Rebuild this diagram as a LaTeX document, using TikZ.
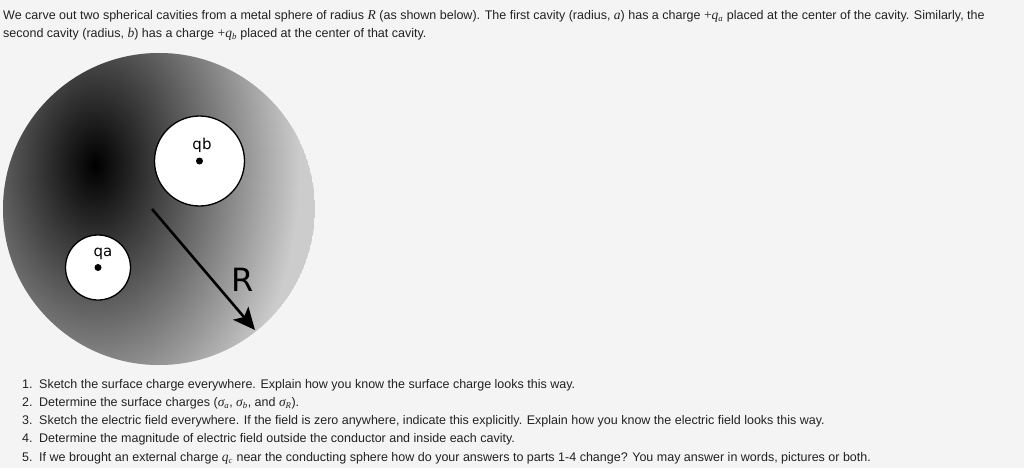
\documentclass[tikz,border=0pt]{standalone}
\usepackage{fontspec}
\setmainfont{Liberation Sans}
\newfontfamily\mathserif{Liberation Serif}
\newfontfamily\labelfont{DejaVu Sans}
\usetikzlibrary{arrows.meta, positioning}
\definecolor{pagebg}{HTML}{F4F4F4}
\definecolor{textcol}{HTML}{222222}
\definecolor{sphlight}{gray}{0.80}
\tikzstyle{every node}=[font=\fontsize{12.5}{15}\selectfont, text=textcol]
\tikzstyle{para}=[anchor=base west, inner sep=0pt]
\tikzstyle{cavity}=[draw, fill=white, circle, line width=1.3pt, inner sep=0pt]
\tikzstyle{chargedot}=[fill=black, circle, inner sep=0pt, minimum size=7pt]
\tikzstyle{qlabel}=[font=\labelfont\fontsize{15}{15}\selectfont, text=black]
\newcommand{\mv}[1]{{\mathserif\itshape\fontsize{13.5}{15}\selectfont #1}}
\newcommand{\msb}[2]{\mv{#1}\textsubscript{\mathserif\itshape #2}}
\newcommand{\pq}[1]{{\mathserif\fontsize{13.5}{15}\selectfont+}\msb{q}{#1}}
\newcommand{\itm}[2]{\makebox[17pt][l]{#1}#2}

\begin{document}
\begin{tikzpicture}[x=1pt, y=-1pt, >=Stealth]
    \fill[pagebg] (0,0) rectangle (1024,468);
    \useasboundingbox (0,0) rectangle (1024,468);
    \node[para] (intro1) at (3,20) {We carve out two spherical cavities from a metal sphere of radius \mv{R} (as shown below). The first cavity (radius, \mv{a}) has a charge \pq{a} placed at the center of the cavity. Similarly, the};
    \node[para] (intro2) at (3,38) {second cavity (radius, \mv{b}) has a charge \pq{b} placed at the center of that cavity.};
    % metal sphere
    \begin{scope}
        \clip (159,209) circle (156);
        \fill[sphlight] (159,209) circle (156);
        \shade[inner color=black, outer color=sphlight] (95,165) ellipse (205 and 300);
    \end{scope}
    \node[cavity, minimum size=90pt] (cavb) at (199.5,161) {};
    \node[cavity, minimum size=65pt] (cava) at (98,267.5) {};
    \node[chargedot] (qbdot) at (cavb.center) {};
    \node[chargedot] (qadot) at (cava.center) {};
    \node[qlabel] (qb) at (202,145) {qb};
    \node[qlabel] (qa) at (103,254) {qa};
    \coordinate (rfoot) at (152,209);
    \coordinate (rtip) at (255,330);
    \draw[->, line width=2.6pt, >={Stealth[length=22pt, width=20pt, inset=5pt]}] (rfoot) -- (rtip);
    \node[font=\labelfont\fontsize{32}{32}\selectfont, text=black] (rlabel) at (243,280) {R};
    % questions
    \node[para] (item1) at (22,388) {\itm{1.}{Sketch the surface charge everywhere. Explain how you know the surface charge looks this way.}};
    \node[para] (item2) at (22,406.3) {\itm{2.}{Determine the surface charges (\msb{σ}{a}, \msb{σ}{b}, and \msb{σ}{R}).}};
    \node[para] (item3) at (22,424.6) {\itm{3.}{Sketch the electric field everywhere. If the field is zero anywhere, indicate this explicitly. Explain how you know the electric field looks this way.}};
    \node[para] (item4) at (22,442.9) {\itm{4.}{Determine the magnitude of electric field outside the conductor and inside each cavity.}};
    \node[para] (item5) at (22,461.2) {\itm{5.}{If we brought an external charge \msb{q}{c} near the conducting sphere how do your answers to parts 1-4 change? You may answer in words, pictures or both.}};
\end{tikzpicture}
\end{document}
